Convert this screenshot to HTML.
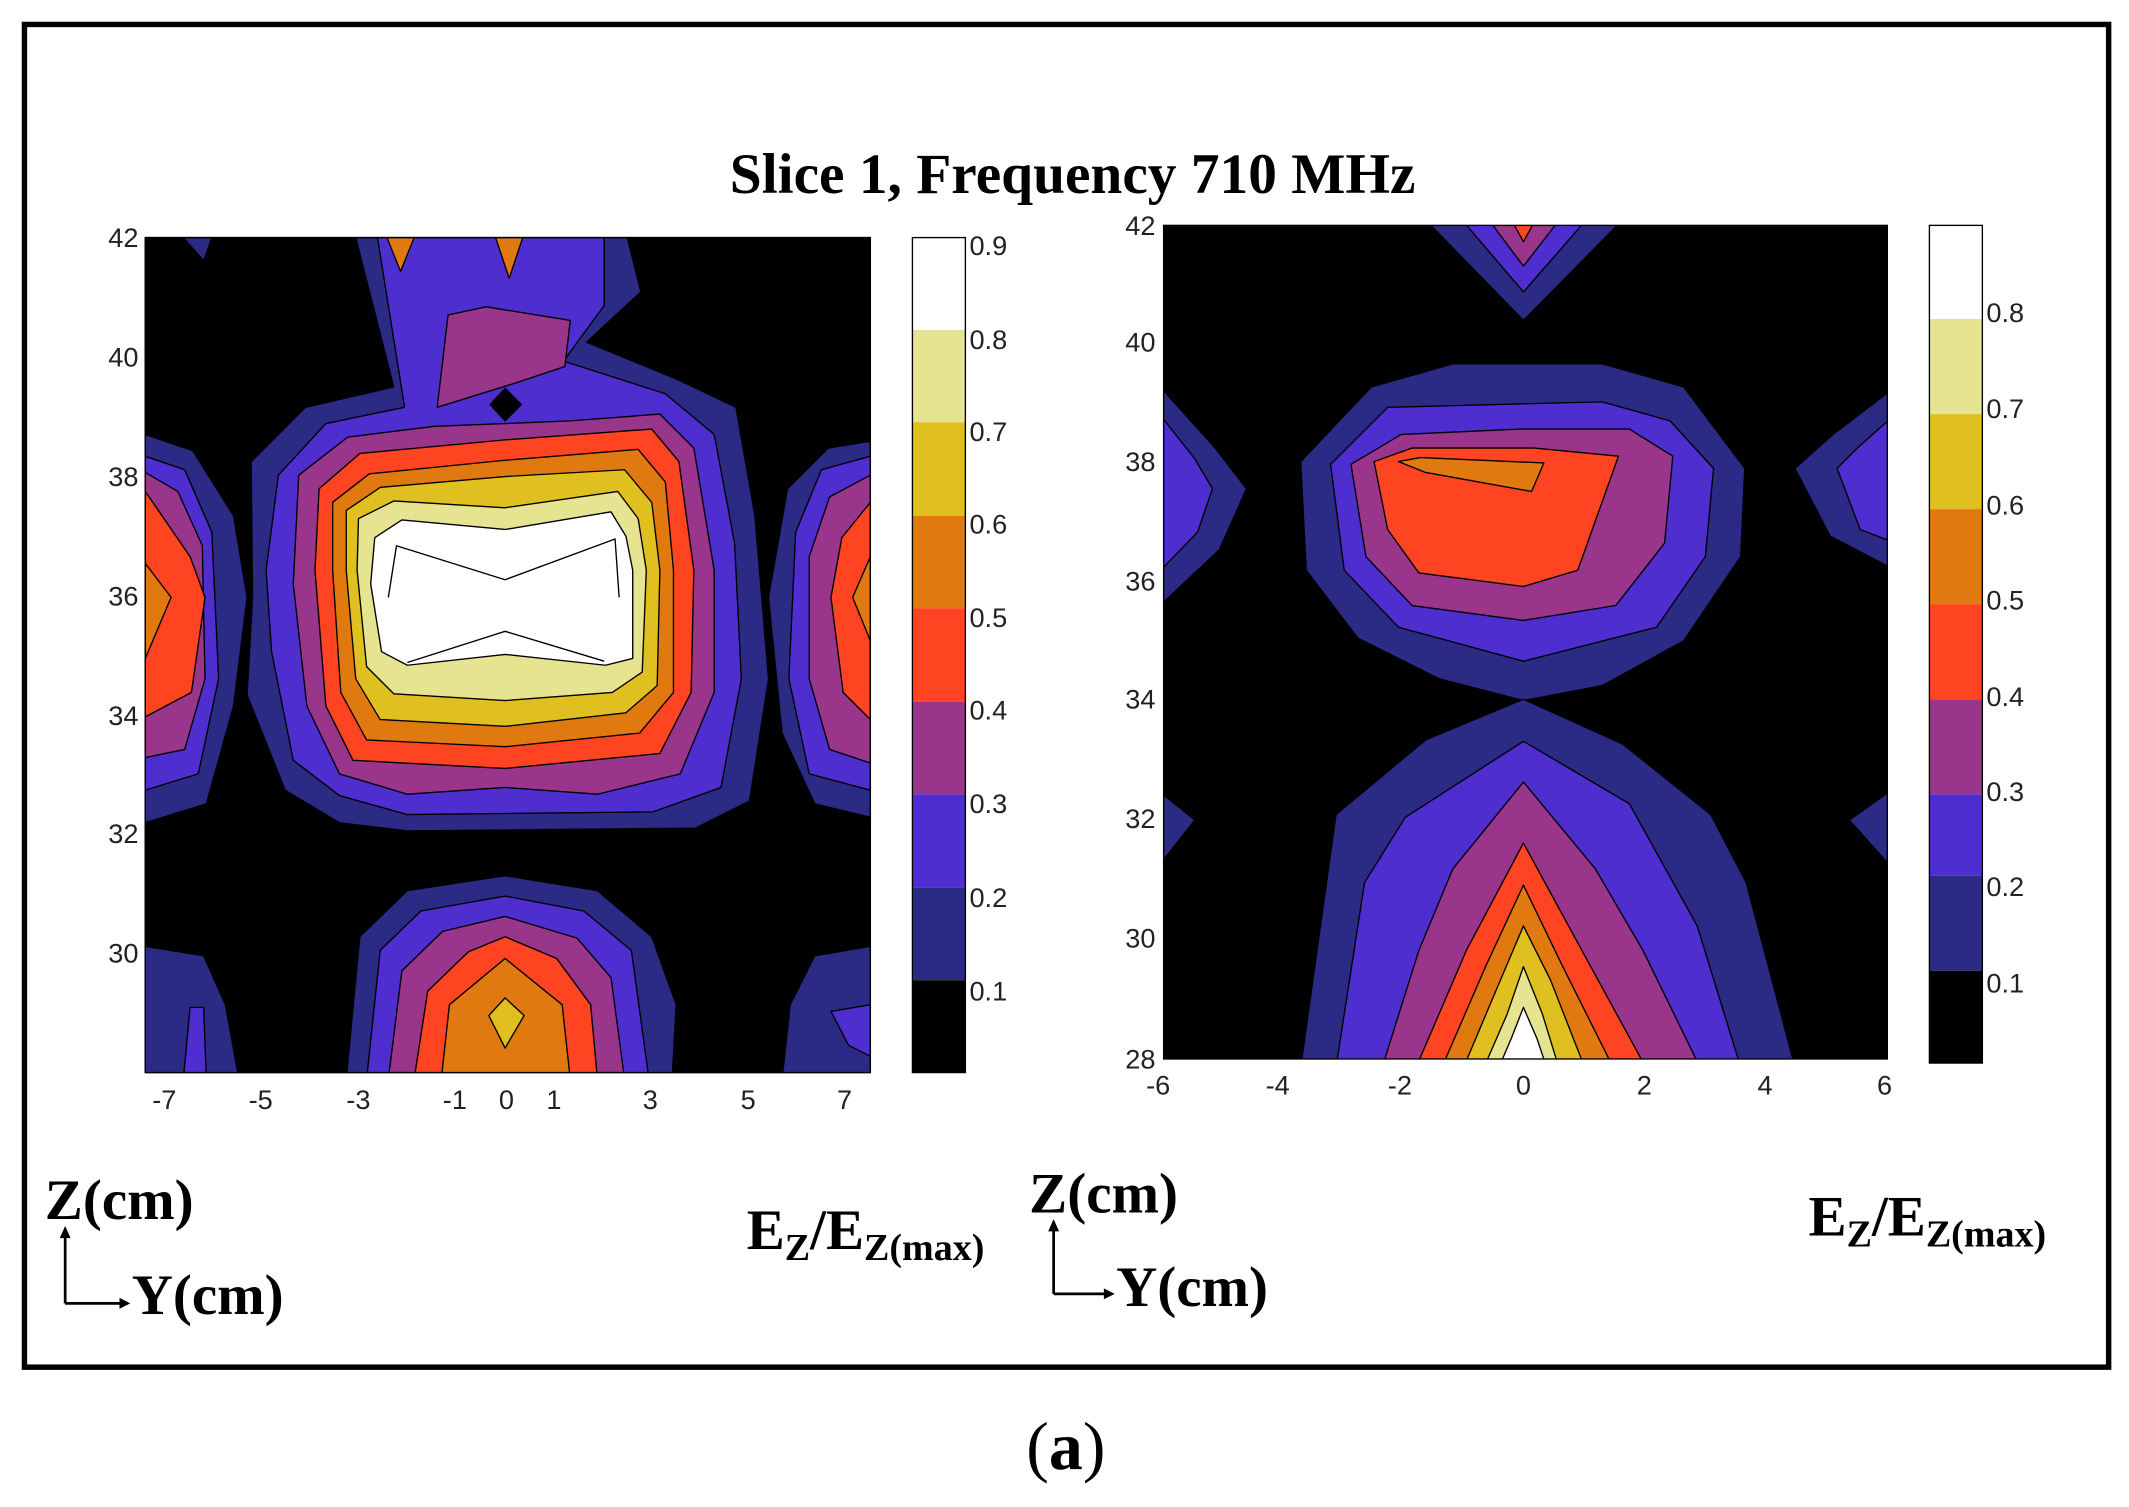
<!DOCTYPE html>
<html><head><meta charset="utf-8"><style>
html,body{margin:0;padding:0;background:#fff;}
svg{display:block;}
</style></head><body>
<svg width="2129" height="1507" viewBox="0 0 1568 1110" preserveAspectRatio="none" xmlns="http://www.w3.org/2000/svg">
<rect x="0" y="0" width="1568" height="1110" fill="#fff"/>
<rect x="18" y="18" width="1535" height="989" fill="none" stroke="#000" stroke-width="4"/>
<text x="790" y="142" text-anchor="middle" font-family="Liberation Serif, serif" font-weight="bold" font-size="42" textLength="505" lengthAdjust="spacingAndGlyphs">Slice 1, Frequency 710 MHz</text>

<g stroke="#000" stroke-width="1" stroke-linejoin="round">
<rect x="107" y="175" width="534" height="615" fill="#000"/>
<svg x="107" y="175" width="534" height="615" viewBox="107 175 534 615" overflow="hidden">
<polygon fill="#2b2b85" points="135,175 150,192 156,175"/>
<polygon fill="#2b2b85" points="185,340 225,300 290,285 262,175 462,175 472,215 432,252 500,280 542,300 556,380 566,500 552,590 512,610 300,612 250,606 210,582 182,512 186,440"/>
<polygon fill="#4f2ed0" points="205,350 240,312 298,300 278,175 445,175 445,225 415,266 490,290 526,320 541,400 546,500 531,580 481,598 300,600 250,586 216,560 200,480 196,420"/>
<polygon fill="#99358a" points="322,300 330,232 358,226 420,236 416,270 380,282"/>
<polygon fill="#000" points="372,286 361,298 372,310 384,298"/>
<polygon fill="#e07a10" points="285,175 305,175 295,200"/>
<polygon fill="#e07a10" points="365,175 385,175 375,205"/>
<polygon fill="#99358a" points="220,350 256,322 320,314 372,312 420,310 486,305 511,330 526,420 526,510 501,570 440,585 372,580 300,585 250,570 226,520 216,430"/>
<polygon fill="#ff4422" points="235,360 265,334 372,324 480,316 500,340 511,420 509,510 486,555 372,566 260,560 240,520 232,420"/>
<polygon fill="#e07a10" points="245,370 272,349 372,339 470,331 490,355 496,420 496,510 471,540 372,550 270,545 251,510 245,420"/>
<polygon fill="#e0c020" points="255,376 280,359 372,351 460,346 480,370 486,420 484,505 461,525 372,535 280,530 262,500 255,420"/>
<polygon fill="#e6e490" points="264,382 290,369 372,374 455,362 470,382 476,420 473,495 451,510 372,516 290,511 270,491 263,420"/>
<polygon fill="#fff" points="276,396 296,383 372,390 450,377 461,395 466,420 466,485 446,490 372,482 300,490 281,480 273,430"/>
<polyline fill="none" points="286,440 292,402 372,427 453,397 456,440"/>
<polyline fill="none" points="300,488 372,465 445,487"/>
<polygon fill="#2b2b85" points="107,320 142,332 172,380 182,440 172,520 152,592 107,606"/>
<polygon fill="#4f2ed0" points="107,336 136,346 156,392 161,500 146,570 107,582"/>
<polygon fill="#99358a" points="107,348 131,362 149,402 151,500 136,552 107,558"/>
<polygon fill="#ff4422" points="107,362 140,410 151,440 141,510 107,528"/>
<polygon fill="#e07a10" points="107,415 126,440 107,485"/>
<polygon fill="#2b2b85" points="641,325 610,330 580,360 566,440 576,540 600,592 641,602"/>
<polygon fill="#4f2ed0" points="641,336 605,346 586,392 581,500 596,570 641,582"/>
<polygon fill="#99358a" points="641,350 611,366 596,410 596,500 611,552 641,562"/>
<polygon fill="#ff4422" points="641,370 620,396 612,440 621,510 641,530"/>
<polygon fill="#e07a10" points="641,410 628,440 641,472"/>
<polygon fill="#2b2b85" points="255,795 265,690 300,656 372,645 440,656 480,690 498,740 495,795"/>
<polygon fill="#4f2ed0" points="270,795 280,700 310,671 372,660 430,671 465,700 478,795"/>
<polygon fill="#99358a" points="286,795 296,715 326,686 372,675 425,691 450,720 460,795"/>
<polygon fill="#ff4422" points="305,795 315,730 345,701 372,690 410,706 435,740 440,795"/>
<polygon fill="#e07a10" points="325,795 331,740 372,706 414,740 420,795"/>
<polygon fill="#e0c020" points="360,748 372,735 386,748 372,772"/>
<polygon fill="#2b2b85" points="107,697 150,704 166,740 176,795 107,795"/>
<polygon fill="#4f2ed0" points="135,795 140,742 150,742 152,795"/>
<polygon fill="#2b2b85" points="641,697 600,704 582,740 576,795 641,795"/>
<polygon fill="#4f2ed0" points="641,740 612,745 625,770 641,778"/>
</svg>
</g>
<rect x="107" y="175" width="534" height="615" fill="none" stroke="#000" stroke-width="1"/>

<g stroke="none">
<rect x="672" y="175" width="39" height="68" fill="#fff"/>
<rect x="672" y="243" width="39" height="68" fill="#e6e490"/>
<rect x="672" y="311" width="39" height="69" fill="#e0c020"/>
<rect x="672" y="380" width="39" height="68" fill="#e07a10"/>
<rect x="672" y="448" width="39" height="69" fill="#ff4422"/>
<rect x="672" y="517" width="39" height="68" fill="#99358a"/>
<rect x="672" y="585" width="39" height="69" fill="#4f2ed0"/>
<rect x="672" y="654" width="39" height="68" fill="#2b2b85"/>
<rect x="672" y="722" width="39" height="68" fill="#000"/>
</g>
<rect x="672" y="175" width="39" height="615" fill="none" stroke="#000" stroke-width="1"/>

<rect x="857" y="166" width="533" height="614" fill="#000"/>
<svg x="857" y="166" width="533" height="614" viewBox="857 166 533 614" overflow="hidden">
<g stroke="#000" stroke-width="1" stroke-linejoin="round">
<polygon fill="#2b2b85" points="1048,160 1197,160 1122,236"/>
<polygon fill="#4f2ed0" points="1075,160 1170,160 1122,215"/>
<polygon fill="#99358a" points="1095,160 1150,160 1122,196"/>
<polygon fill="#ff4422" points="1112,160 1132,160 1122,178"/>
<polygon fill="#2b2b85" points="958,340 1010,285 1070,268 1180,268 1240,285 1285,345 1282,410 1240,472 1180,505 1122,516 1060,500 1000,470 962,420"/>
<polygon fill="#4f2ed0" points="980,342 1022,300 1180,296 1230,310 1262,345 1256,410 1220,462 1122,487 1030,462 990,420"/>
<polygon fill="#99358a" points="995,342 1032,320 1120,316 1200,316 1232,336 1226,400 1190,446 1122,457 1040,446 1006,410"/>
<polygon fill="#ff4422" points="1012,340 1040,330 1130,330 1192,336 1162,420 1122,432 1045,422 1022,390"/>
<polygon fill="#e07a10" points="1030,340 1046,337 1137,341 1128,362 1050,348"/>
<polygon fill="#2b2b85" points="850,280 895,330 918,360 898,405 850,450"/>
<polygon fill="#4f2ed0" points="850,300 880,338 893,360 882,392 850,425"/>
<polygon fill="#2b2b85" points="1396,285 1350,320 1322,345 1348,395 1396,420"/>
<polygon fill="#4f2ed0" points="1396,305 1368,330 1353,345 1370,390 1396,400"/>
<polygon fill="#2b2b85" points="850,580 880,604 850,642"/>
<polygon fill="#2b2b85" points="1396,580 1362,604 1396,642"/>
<polygon fill="#2b2b85" points="958,786 984,600 1050,545 1122,515 1195,548 1260,600 1286,650 1322,786"/>
<polygon fill="#4f2ed0" points="984,786 1005,650 1035,602 1122,546 1200,592 1250,682 1282,786"/>
<polygon fill="#99358a" points="1018,786 1045,700 1070,640 1122,576 1175,640 1210,700 1252,786"/>
<polygon fill="#ff4422" points="1043,786 1080,700 1122,621 1165,700 1212,786"/>
<polygon fill="#e07a10" points="1062,786 1095,710 1122,652 1150,710 1188,786"/>
<polygon fill="#e0c020" points="1078,786 1105,722 1122,682 1142,722 1167,786"/>
<polygon fill="#e6e490" points="1093,786 1110,747 1122,712 1136,747 1148,786"/>
<polygon fill="#fff" points="1104,786 1113,765 1122,742 1132,765 1139,786"/>
</g>
</svg>
<rect x="857" y="166" width="533" height="614" fill="none" stroke="#000" stroke-width="1"/>

<g stroke="none">
<rect x="1421" y="166" width="39" height="69" fill="#fff"/>
<rect x="1421" y="235" width="39" height="70" fill="#e6e490"/>
<rect x="1421" y="305" width="39" height="70" fill="#e0c020"/>
<rect x="1421" y="375" width="39" height="70" fill="#e07a10"/>
<rect x="1421" y="445" width="39" height="70" fill="#ff4422"/>
<rect x="1421" y="515" width="39" height="70" fill="#99358a"/>
<rect x="1421" y="585" width="39" height="60" fill="#4f2ed0"/>
<rect x="1421" y="645" width="39" height="70" fill="#2b2b85"/>
<rect x="1421" y="715" width="39" height="68" fill="#000"/>
</g>
<rect x="1421" y="166" width="39" height="617" fill="none" stroke="#000" stroke-width="1"/>

<g font-family="Liberation Sans, sans-serif" font-size="20" fill="#222">
<g text-anchor="end">
<text x="102" y="182">42</text><text x="102" y="270">40</text><text x="102" y="358">38</text>
<text x="102" y="446">36</text><text x="102" y="534">34</text><text x="102" y="621">32</text><text x="102" y="709">30</text>
</g>
<g text-anchor="middle">
<text x="121" y="817">-7</text><text x="192" y="817">-5</text><text x="264" y="817">-3</text>
<text x="335" y="817">-1</text><text x="373" y="817">0</text><text x="408" y="817">1</text>
<text x="479" y="817">3</text><text x="551" y="817">5</text><text x="622" y="817">7</text>
</g>
<g>
<text x="714" y="188">0.9</text><text x="714" y="257">0.8</text><text x="714" y="325">0.7</text>
<text x="714" y="393">0.6</text><text x="714" y="462">0.5</text><text x="714" y="530">0.4</text>
<text x="714" y="599">0.3</text><text x="714" y="668">0.2</text><text x="714" y="737">0.1</text>
</g>
<g text-anchor="end">
<text x="851" y="173">42</text><text x="851" y="259">40</text><text x="851" y="347">38</text>
<text x="851" y="435">36</text><text x="851" y="522">34</text><text x="851" y="610">32</text>
<text x="851" y="698">30</text><text x="851" y="787">28</text>
</g>
<g text-anchor="middle">
<text x="853" y="806">-6</text><text x="941" y="806">-4</text><text x="1031" y="806">-2</text>
<text x="1122" y="806">0</text><text x="1211" y="806">2</text><text x="1300" y="806">4</text><text x="1388" y="806">6</text>
</g>
<g>
<text x="1463" y="237">0.8</text><text x="1463" y="308">0.7</text><text x="1463" y="379">0.6</text>
<text x="1463" y="449">0.5</text><text x="1463" y="520">0.4</text><text x="1463" y="590">0.3</text>
<text x="1463" y="660">0.2</text><text x="1463" y="731">0.1</text>
</g>
</g>

<g font-family="Liberation Serif, serif" font-weight="bold" font-size="42" fill="#000">
<text x="33" y="898">Z(cm)</text>
<text x="97" y="968">Y(cm)</text>
<text x="758" y="893">Z(cm)</text>
<text x="822" y="962">Y(cm)</text>
<text x="550" y="920">E<tspan font-size="28" dy="8">Z</tspan><tspan dy="-8">/E</tspan><tspan font-size="28" dy="8">Z(max)</tspan></text>
<text x="1332" y="910">E<tspan font-size="28" dy="8">Z</tspan><tspan dy="-8">/E</tspan><tspan font-size="28" dy="8">Z(max)</tspan></text>
</g>
<g stroke="#000" stroke-width="2" fill="#000">
<line x1="48" y1="960" x2="48" y2="910"/><polygon points="44,912 52,912 48,903" stroke="none"/>
<line x1="48" y1="960" x2="90" y2="960"/><polygon points="88,956 88,964 96,960" stroke="none"/>
<line x1="776" y1="953" x2="776" y2="905"/><polygon points="772,907 780,907 776,898" stroke="none"/>
<line x1="776" y1="953" x2="815" y2="953"/><polygon points="813,949 813,957 821,953" stroke="none"/>
</g>
<text x="785" y="1082" text-anchor="middle" font-family="Liberation Serif, serif" font-size="50">(<tspan font-weight="bold">a</tspan>)</text>
</svg>
</body></html>
